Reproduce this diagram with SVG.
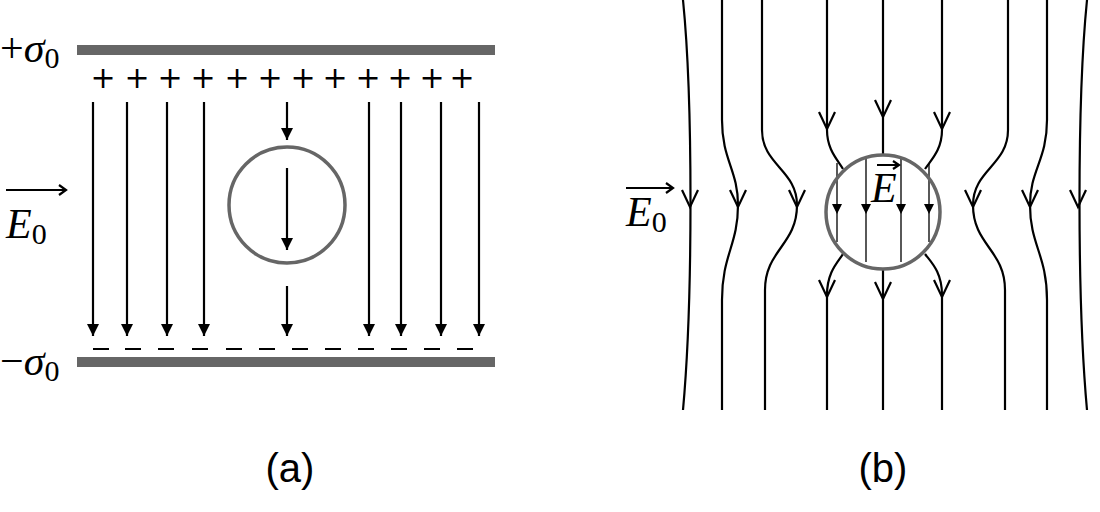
<svg xmlns="http://www.w3.org/2000/svg" width="1100" height="512" viewBox="0 0 1100 512">
<style>
.t{font-family:"Liberation Serif",serif;font-size:42px;fill:#000}
.i{font-style:italic}
.s{font-size:30px}
.cap{font-family:"Liberation Sans",sans-serif;font-size:40px}
.ln{fill:none;stroke:#000;stroke-width:2.2}
.thin{fill:none;stroke:#000;stroke-width:1.3}
.plate{fill:#666}
.circ{fill:none;stroke:#666;stroke-width:3.5}
.ch{font-family:"DejaVu Sans",sans-serif;font-size:30px}
</style>
<defs>
<marker id="tri" viewBox="0 0 10 10" refX="10" refY="5" markerWidth="5.5" markerHeight="5.5" orient="auto"><path d="M0,0 L10,5 L0,10 z" fill="#000"/></marker>
</defs>
<g id="panel-a">
<rect class="plate" x="77" y="45" width="418" height="10"/>
<rect class="plate" x="77" y="357" width="418" height="10"/>
<text class="t" x="0" y="62">+<tspan class="i">σ</tspan><tspan class="s" dy="6">0</tspan></text>
<text class="t" x="0" y="375">−<tspan class="i">σ</tspan><tspan class="s" dy="6">0</tspan></text>
<text class="ch" x="103" y="88" text-anchor="middle">+</text><text class="ch" x="137" y="88" text-anchor="middle">+</text><text class="ch" x="170" y="88" text-anchor="middle">+</text><text class="ch" x="203" y="88" text-anchor="middle">+</text><text class="ch" x="237" y="88" text-anchor="middle">+</text><text class="ch" x="270" y="88" text-anchor="middle">+</text><text class="ch" x="303" y="88" text-anchor="middle">+</text><text class="ch" x="335" y="88" text-anchor="middle">+</text><text class="ch" x="368" y="88" text-anchor="middle">+</text><text class="ch" x="400" y="88" text-anchor="middle">+</text><text class="ch" x="432" y="88" text-anchor="middle">+</text><text class="ch" x="462" y="88" text-anchor="middle">+</text>
<path class="ln" d="M93,349h16M125,349h16M158,349h16M192,349h16M226,349h16M259,349h16M292,349h16M325,349h16M358,349h16M391,349h16M424,349h16M457,349h16"/>
<text class="t i" x="6" y="238" font-size="46">E<tspan class="s" dy="6" font-style="normal">0</tspan></text>
<path class="ln" d="M6,190 H66 M59,185 L66,190 L59,195" stroke-width="1.6"/>
<circle class="circ" cx="287" cy="205" r="58"/>
</g>
<g id="connectors">
<g class="ln" marker-end="url(#tri)">
<path d="M93,102V336"/><path d="M127,102V336"/><path d="M167,102V336"/><path d="M204,102V336"/><path d="M369,102V336"/><path d="M401,102V336"/><path d="M441,102V336"/><path d="M479,102V336"/><path d="M287,102V140"/><path d="M287,168V250"/><path d="M287,286V336"/>
</g>
<path class="ln" d="M683,0 C693,100 693,300 683,410 M722,0 L722,120 C722,160 738,170 738,205 C738,245 722,255 722,300 L722,410 M762,0 L762,130 C762,165 797,170 797,205 C797,245 765,250 765,290 L765,410 M827,0 L827,130 C827,150 838,160 843,169 M843,254 C838,262 827,272 827,295 L827,410 M883,0 V155 M883,268 V410 M942,0 L942,130 C942,150 931,160 925,169 M925,254 C931,262 942,272 942,295 L942,410 M1008,0 L1008,130 C1008,165 973,170 973,205 C973,245 1005,250 1005,290 L1005,410 M1047,0 L1047,120 C1047,160 1030,170 1030,205 C1030,245 1047,255 1047,300 L1047,410 M1087,0 C1077,100 1077,300 1087,410"/>
<path class="ln" d="M682,190 L690,207 L698,190 M730,190 L738,207 L746,190 M789,190 L797,207 L805,190 M965,190 L973,207 L981,190 M1022,190 L1030,207 L1038,190 M1070,190 L1078,207 L1086,190 M819,112 L827,129 L835,112 M875,100 L883,117 L891,100 M934,112 L942,129 L950,112 M819,280 L827,297 L835,280 M875,282 L883,299 L891,282 M934,280 L942,297 L950,280"/>
<path class="thin" d="M837,163V242M866,157V262M901,157V262M929,163V242"/>
<path d="M832,204h10l-5,10zM861,204h10l-5,10zM896,204h10l-5,10zM924,204h10l-5,10z" fill="#000"/>
</g>
<g id="panel-b">
<circle class="circ" cx="883" cy="212" r="57"/>
<text class="t i" x="626" y="226" font-size="46">E<tspan class="s" dy="6" font-style="normal">0</tspan></text>
<path class="ln" d="M626,188 H673 M666,183 L673,188 L666,193" stroke-width="1.6"/>
<text class="t i" x="871" y="202" font-size="38">E</text>
<path class="ln" d="M877,165 H899 M893,161 L899,165 L893,169" stroke-width="1.4"/>
</g>
<text class="cap" x="290" y="482" text-anchor="middle">(a)</text>
<text class="cap" x="883" y="482" text-anchor="middle">(b)</text>
</svg>
